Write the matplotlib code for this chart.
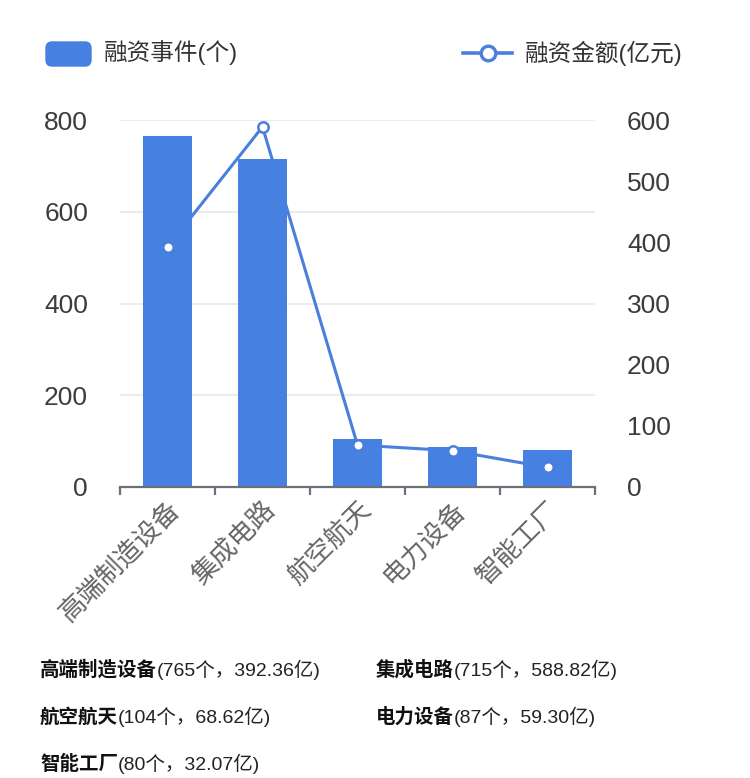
import matplotlib.pyplot as plt
import numpy as np
from matplotlib.patches import FancyBboxPatch
from matplotlib.lines import Line2D
from matplotlib.ticker import FixedLocator

plt.rcParams['font.family'] = ['Liberation Sans', 'Noto Sans CJK SC', 'DejaVu Sans']

# data
categories = ['高端制造设备', '集成电路', '航空航天', '电力设备', '智能工厂']
events = [765, 715, 104, 87, 80]
amounts = [392.36, 588.82, 68.62, 59.30, 32.07]
amount_labels = ['392.36', '588.82', '68.62', '59.30', '32.07']
left_ticks = [0, 200, 400, 600, 800]
right_ticks = [0, 100, 200, 300, 400, 500, 600]

bar_color = '#4680e0'
line_color = '#4a7fdb'

fig = plt.figure(figsize=(7.5, 7.78), dpi=100)
W, H = 750, 778

def fx(px):
    return px / W

def fy(py):
    return 1 - py / H

# bottom layer: line axis (right scale), middle: bars (left scale), top: markers
ax1 = fig.add_axes([fx(120), fy(487), fx(595) - fx(120), fy(120) - fy(487)])
ax2 = ax1.twinx()
ax3 = ax1.twinx()
ax2.set_zorder(1)
ax1.set_zorder(2)
ax3.set_zorder(3)
ax1.patch.set_visible(False)
ax3.patch.set_visible(False)

x = np.arange(len(categories))

ax1.bar(x, events, width=0.52, color=bar_color, zorder=2)
ax2.plot(x, amounts, color=line_color, lw=2.2, zorder=2)
ax3.plot(x, amounts, ls='none', marker='o', ms=7.5, mfc='white',
         mec=line_color, mew=1.8)

ax1.set_xlim(-0.5, len(categories) - 0.5)
ax1.set_ylim(0, 800)
ax2.set_ylim(0, 600)
ax3.set_ylim(0, 600)
ax3.axis('off')

ax1.set_yticks(left_ticks)
ax2.set_yticks(right_ticks)
# grid of the left scale, drawn on the bottom layer so the line passes over it
for v in left_ticks[1:]:
    ax2.axhline(v * 600 / 800, color='#ebebeb', lw=1.3, zorder=1)

for a in (ax1, ax2):
    for s in ['top', 'left', 'right']:
        a.spines[s].set_visible(False)
ax2.spines['bottom'].set_visible(False)
ax1.spines['bottom'].set_color('#6e7079')
ax1.spines['bottom'].set_linewidth(1.6)

ax1.tick_params(axis='y', length=0, pad=23, labelsize=19, labelcolor='#3c3c3c')
ax2.tick_params(axis='y', length=0, pad=23, labelsize=19, labelcolor='#3c3c3c')

ax1.set_xticks(x)
ax1.set_xticklabels(categories, rotation=45, ha='right', rotation_mode='anchor')
ax1.tick_params(axis='x', which='major', length=0, pad=7, labelsize=19, labelcolor='#666666')
ax1.xaxis.set_minor_locator(FixedLocator(np.arange(-0.5, len(categories), 1)))
ax1.tick_params(axis='x', which='minor', length=6, width=1.6, color='#6e7079')

# legend
fig.patches.append(FancyBboxPatch((fx(46), fy(66)), fx(45), fy(42) - fy(66),
                                  boxstyle='round,pad=0,rounding_size=0.008',
                                  transform=fig.transFigure, color=bar_color))
fig.text(fx(104), fy(53), '融资事件(个)', fontsize=17, color='#333333', va='center')
fig.lines.append(Line2D([fx(463), fx(512)], [fy(53), fy(53)], color=line_color, lw=2.6,
                        transform=fig.transFigure))
fig.lines.append(Line2D([fx(487.5)], [fy(53)], ls='none', marker='o', ms=10.5, mfc='white',
                        mec=line_color, mew=2.4, transform=fig.transFigure))
fig.text(fx(525), fy(53), '融资金额(亿元)', fontsize=17, color='#333333', va='center')

# bottom summary
cols = [40, 376]
rows = [670, 717, 764]
for i, cat in enumerate(categories):
    px = cols[i % 2]
    py = rows[i // 2]
    t1 = fig.text(fx(px), fy(py), cat, fontsize=14, fontweight='bold', color='#111111', va='center')
    rest = '(' + str(events[i]) + '个，' + amount_labels[i] + '亿)'
    ax1.annotate(rest, xy=(1, 0.5), xycoords=t1, fontsize=14, color='#222222',
                 va='center', ha='left', annotation_clip=False)

fig.savefig('out.png', dpi=100)
